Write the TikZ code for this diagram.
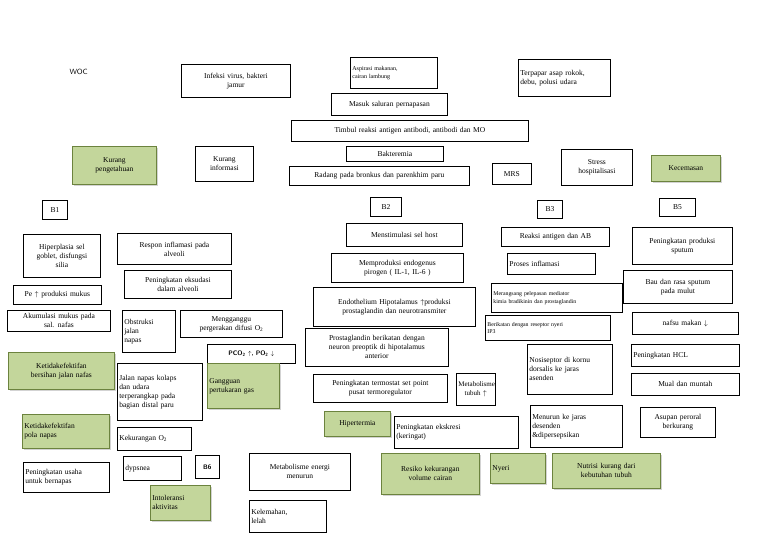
\documentclass[tikz,border=0pt]{standalone}
\usepackage{fontspec}
\setmainfont{Liberation Serif}
\usetikzlibrary{shadows}
\definecolor{gfill}{HTML}{C3D69B}
\definecolor{gline}{HTML}{9BBB59}
\tikzset{
 box/.style={draw=black,line width=0.8pt,fill=white,inner sep=1pt,anchor=north west,font=\fontsize{7.5}{9}\selectfont},
 gbox/.style={box,draw=gline!70!black,fill=gfill,drop shadow={shadow xshift=1.2pt,shadow yshift=-1.2pt,opacity=0.35}},
}
% #1 options, #2 name, #3 x1, #4 y1, #5 x2, #6 y2, #7 text
\newcommand\bx[7][]{\node[box,minimum width={(#5-#3)*1pt},minimum height={(#6-#4)*1pt},text width={(#5-#3-4)*1pt},align=center,#1] (#2) at (#3,#4) {#7};}
\begin{document}
\begin{tikzpicture}[x=1pt,y=-1pt]
\useasboundingbox (0,0) rectangle (768,543);
\node[font=\fontsize{7.5}{9}\selectfont\sffamily,anchor=west] (woc) at (66,72) {WOC};
\bx{inf}{181}{64}{290}{97}{Infeksi virus, bakteri\\jamur}
\bx[align=left,font=\fontsize{6}{7.5}\selectfont]{asp}{350}{57}{437}{88}{Aspirasi makanan,\\cairan lambung}
\bx[align=left]{terp}{518}{59}{610}{96}{Terpapar asap rokok,\\debu, polusi udara}
\bx{masuk}{331}{93}{447}{115}{Masuk saluran pernapasan}
\bx{timbul}{291}{120}{528}{141}{Timbul reaksi antigen antibodi, antibodi dan MO}
\bx[gbox]{kpeng}{72}{146}{156}{184}{Kurang\\pengetahuan}
\bx{kinf}{195}{146}{253}{181}{Kurang\\informasi}
\bx{bakt}{346}{146}{443}{161}{Bakteremia}
\bx{radang}{289}{166}{469}{185}{Radang pada bronkus dan parenkhim paru}
\bx{mrs}{492}{163}{531}{184}{MRS}
\bx{stress}{561}{149}{632}{185}{Stress\\hospitalisasi}
\bx[gbox]{cemas}{651}{155}{720}{181}{Kecemasan}
\bx{b1}{42}{200}{67}{219}{B1}
\bx{b2}{370}{197}{401}{216}{B2}
\bx{b3}{537}{200}{562}{218}{B3}
\bx{b5}{659}{198}{695}{216}{B5}
% B1 column
\bx{hiper}{23}{234}{100}{277}{Hiperplasia sel\\goblet, disfungsi\\silia}
\bx{respon}{117}{233}{231}{264}{Respon inflamasi pada\\alveoli}
\bx{eksud}{124}{270}{231}{298}{Peningkatan eksudasi\\dalam alveoli}
\bx{mukus}{13}{285}{101}{304}{Pe $\uparrow$ produksi mukus}
\bx{akum}{7}{310}{110}{331}{Akumulasi mukus pada\\sal. nafas}
\bx[align=left]{obs}{122}{310}{175}{352}{Obstruksi\\jalan\\napas}
\bx{meng}{180}{310}{282}{337}{Mengganggu\\pergerakan difusi O\textsubscript{2}}
\bx[font=\fontsize{6.5}{8}\selectfont\sffamily\bfseries]{pco}{207}{344}{295}{363}{PCO\textsubscript{2} $\uparrow$, PO\textsubscript{2} $\downarrow$}
\bx[gbox]{kbers}{8}{352}{114}{389}{Ketidakefektifan\\bersihan jalan nafas}
\bx[align=left]{kolaps}{117}{363}{202}{420}{Jalan napas kolaps\\dan udara\\terperangkap pada\\bagian distal paru}
\bx[gbox,align=left]{ggas}{207}{363}{279}{408}{Gangguan\\pertukaran gas}
\bx[gbox,align=left]{kpola}{22}{414}{109}{448}{Ketidakefektifan\\pola napas}
\bx[align=left]{ko2}{117}{427}{191}{450}{Kekurangan O\textsubscript{2}}
\bx[align=left]{usaha}{23}{462}{109}{492}{Peningkatan usaha\\untuk bernapas}
\bx[align=left]{dyp}{123}{456}{181}{480}{dypsnea}
\bx[font=\fontsize{6.5}{8}\selectfont\sffamily\bfseries]{b6}{195}{455}{219}{478}{B6}
\bx{metab}{249}{453}{350}{490}{Metabolisme energi\\menurun}
\bx[gbox,align=left]{intol}{150}{485}{210}{520}{Intoleransi\\aktivitas}
\bx[align=left]{lemah}{249}{500}{326}{532}{Kelemahan,\\lelah}
% B2 column
\bx{stim}{346}{223}{462}{246}{Menstimulasi sel host}
\bx{pirog}{331}{253}{463}{282}{Memproduksi endogenus\\pirogen ( IL-1, IL-6 )}
\bx{endo}{313}{287}{475}{326}{Endothelium Hipotalamus $\uparrow$produksi\\prostaglandin dan neurotransmiter}
\bx{prost}{305}{328}{448}{366}{Prostaglandin berikatan dengan\\neuron preoptik di hipotalamus\\anterior}
\bx{termo}{313}{374}{447}{402}{Peningkatan termostat set point\\pusat termoregulator}
\bx[font=\fontsize{7}{9}\selectfont]{mtub}{456}{373}{495}{405}{Metabolisme\\tubuh $\uparrow$}
\bx[gbox]{hiperm}{324}{411}{390}{436}{Hipertermia}
\bx[align=left]{ekskr}{394}{416}{518}{448}{Peningkatan ekskresi\\(keringat)}
\bx[gbox]{resiko}{381}{453}{479}{494}{Resiko kekurangan\\volume cairan}
\bx[gbox,align=left]{nyeri}{490}{453}{545}{483}{Nyeri}
\bx[gbox]{nutr}{552}{453}{660}{488}{Nutrisi kurang dari\\kebutuhan tubuh}
% B3 column
\bx{ragab}{501}{227}{609}{246}{Reaksi antigen dan AB}
\bx[align=left]{proses}{507}{253}{595}{274}{Proses inflamasi}
\bx[align=left,font=\fontsize{5.8}{7.5}\selectfont]{merang}{491}{283}{622}{312}{Merangsang pelepasan mediator\\kimia bradikinin dan prostaglandin}
\bx[align=left,font=\fontsize{5.8}{7.5}\selectfont]{berik}{485}{315}{610}{340}{Berikatan dengan reseptor nyeri\\IP3}
\bx[align=left]{nosi}{527}{344}{612}{394}{Nosiseptor di kornu\\dorsalis ke jaras\\asenden}
\bx[align=left]{menurun}{530}{405}{622}{447}{Menurun ke jaras\\desenden\\\&dipersepsikan}
% B5 column
\bx{sput}{632}{227}{732}{264}{Peningkatan produksi\\sputum}
\bx{bau}{623}{270}{732}{303}{Bau dan rasa sputum\\pada mulut}
\bx{nafsu}{632}{312}{738}{334}{nafsu makan $\downarrow$}
\bx[align=left]{hcl}{631}{344}{739}{366}{Peningkatan HCL}
\bx{mual}{631}{373}{739}{395}{Mual dan muntah}
\bx{asupan}{640}{407}{715}{437}{Asupan peroral\\berkurang}
\end{tikzpicture}
\end{document}
